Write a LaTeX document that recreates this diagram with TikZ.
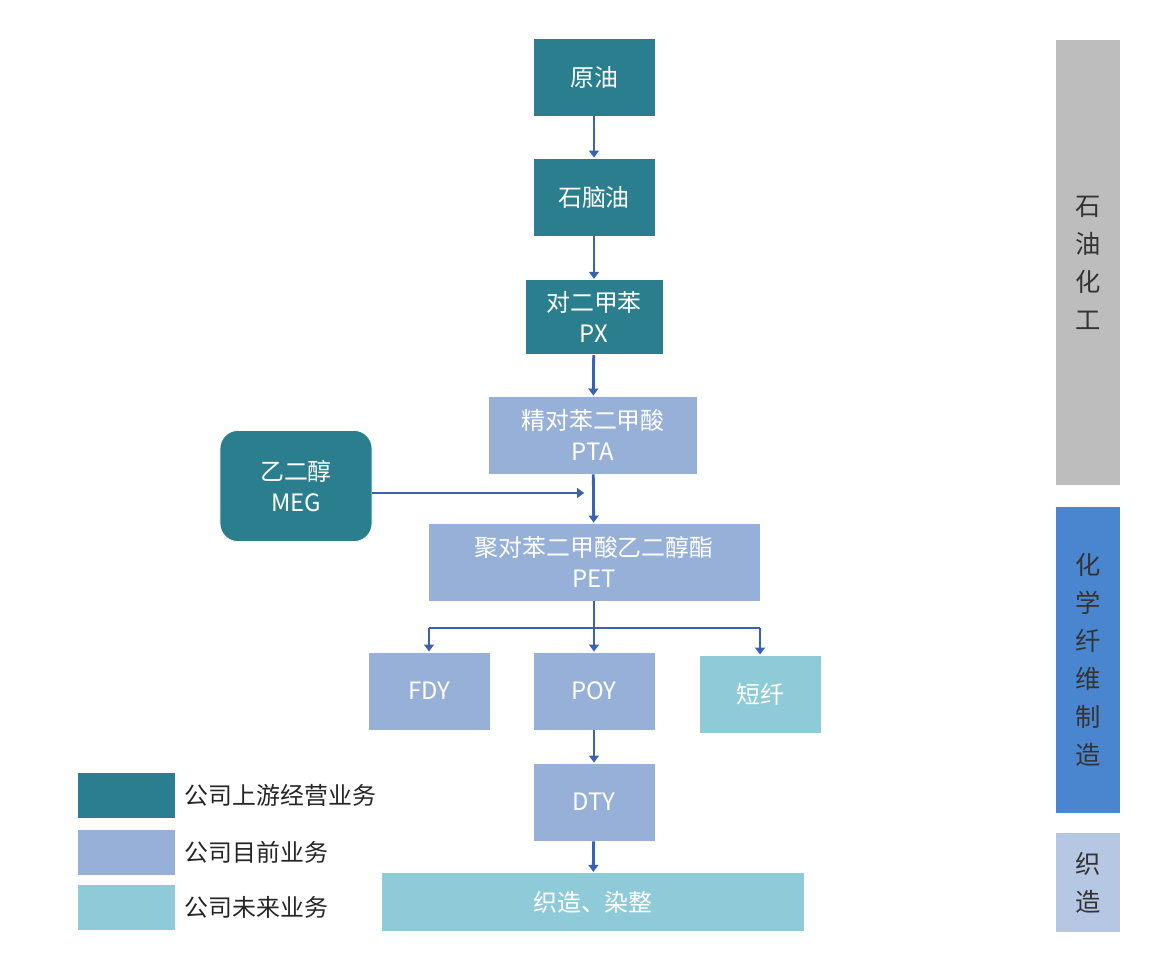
\documentclass[tikz,border=0pt]{standalone}
\usepackage{fontspec}
\setmainfont{Noto Sans CJK SC}
\usetikzlibrary{arrows.meta,positioning}
\definecolor{upteal}{HTML}{2A7E8E}
\definecolor{nowblue}{HTML}{96B0D8}
\definecolor{futcyan}{HTML}{8FCAD8}
\definecolor{arrblue}{HTML}{3A62B0}
\definecolor{sidegray}{HTML}{BDBDBD}
\definecolor{sideblue}{HTML}{4A86D0}
\definecolor{sidelight}{HTML}{B6C7E4}
\tikzset{
  box/.style={draw=white, line width=0.6pt, text=white, align=center, font=\fontsize{17}{22}\selectfont, inner sep=0pt},
  up/.style={box, fill=upteal},
  now/.style={box, fill=nowblue},
  fut/.style={box, fill=futcyan},
  side/.style={text=black!80, align=center, font=\fontsize{18}{27}\selectfont, inner sep=0pt, minimum width=1.6cm},
  flow/.style={arrblue, line width=2pt, -{Triangle[length=5pt,width=7pt]}},
  legend/.style={font=\fontsize{17}{20}\selectfont, anchor=west, text=black!85}
}
\begin{document}
\begin{tikzpicture}[x=0.025cm,y=-0.025cm]
\useasboundingbox[fill=white] (0,0) rectangle (1160,970);
% main chain
\node[up, minimum width=3.05cm, minimum height=1.95cm] (crude) at (594,77) {原油};
\node[up, minimum width=3.05cm, minimum height=1.95cm] (naphtha) at (594,197) {石脑油};
\node[up, minimum width=3.45cm, minimum height=1.88cm] (px) at (594,317) {对二甲苯\\PX};
\node[now, minimum width=5.22cm, minimum height=1.95cm] (pta) at (593,435) {精对苯二甲酸\\PTA};
\node[up, rounded corners=0.45cm, minimum width=3.8cm, minimum height=2.78cm] (meg) at (296,486) {乙二醇\\MEG};
\node[now, minimum width=8.3cm, minimum height=1.95cm] (pet) at (594,562) {聚对苯二甲酸乙二醇酯\\PET};
\node[now, minimum width=3.05cm, minimum height=1.95cm] (fdy) at (429,691) {FDY};
\node[now, minimum width=3.05cm, minimum height=1.95cm] (poy) at (594,691) {POY};
\node[fut, minimum width=3.05cm, minimum height=1.95cm] (staple) at (760,694) {短纤};
\node[now, minimum width=3.05cm, minimum height=1.95cm] (dty) at (594,802) {DTY};
\node[fut, minimum width=10.58cm, minimum height=1.48cm] (weave) at (593,902) {织造、染整};
% connectors
\coordinate (join) at (594,493);
\coordinate (split) at (594,628);
\draw[flow] (crude) -- (naphtha);
\draw[flow] (naphtha) -- (px);
\draw[flow] (px) -- (pta);
\draw[flow] (pta) -- (pet);
\draw[flow, shorten >=7pt] (meg.east |- join) -- (join);
\draw[arrblue, line width=2pt] (pet) -- (split);
\draw[arrblue, line width=2pt] (fdy.north |- split) -- (staple.north |- split);
\draw[flow] (fdy.north |- split) -- (fdy);
\draw[flow] (split) -- (poy);
\draw[flow] (staple.north |- split) -- (staple);
\draw[flow] (poy) -- (dty);
\draw[flow] (dty) -- (weave);
% side bars
\node[side, fill=sidegray, minimum height=11.12cm] (petro) at (1088,262.5) {石\\油\\化\\工};
\node[side, fill=sideblue, minimum height=7.65cm] (fibre) at (1088,660) {化\\学\\纤\\维\\制\\造};
\node[side, fill=sidelight, minimum height=2.48cm] (weaving) at (1088,882.5) {织\\造};
% legend
\node[fill=upteal, minimum width=2.42cm, minimum height=1.12cm, inner sep=0pt] (keyup) at (126.5,795.5) {};
\node[fill=nowblue, minimum width=2.42cm, minimum height=1.12cm, inner sep=0pt] (keynow) at (126.5,852.5) {};
\node[fill=futcyan, minimum width=2.42cm, minimum height=1.12cm, inner sep=0pt] (keyfut) at (126.5,907.5) {};
\node[legend, right=0.12cm of keyup] {公司上游经营业务};
\node[legend, right=0.12cm of keynow] {公司目前业务};
\node[legend, right=0.12cm of keyfut] {公司未来业务};
\end{tikzpicture}
\end{document}
